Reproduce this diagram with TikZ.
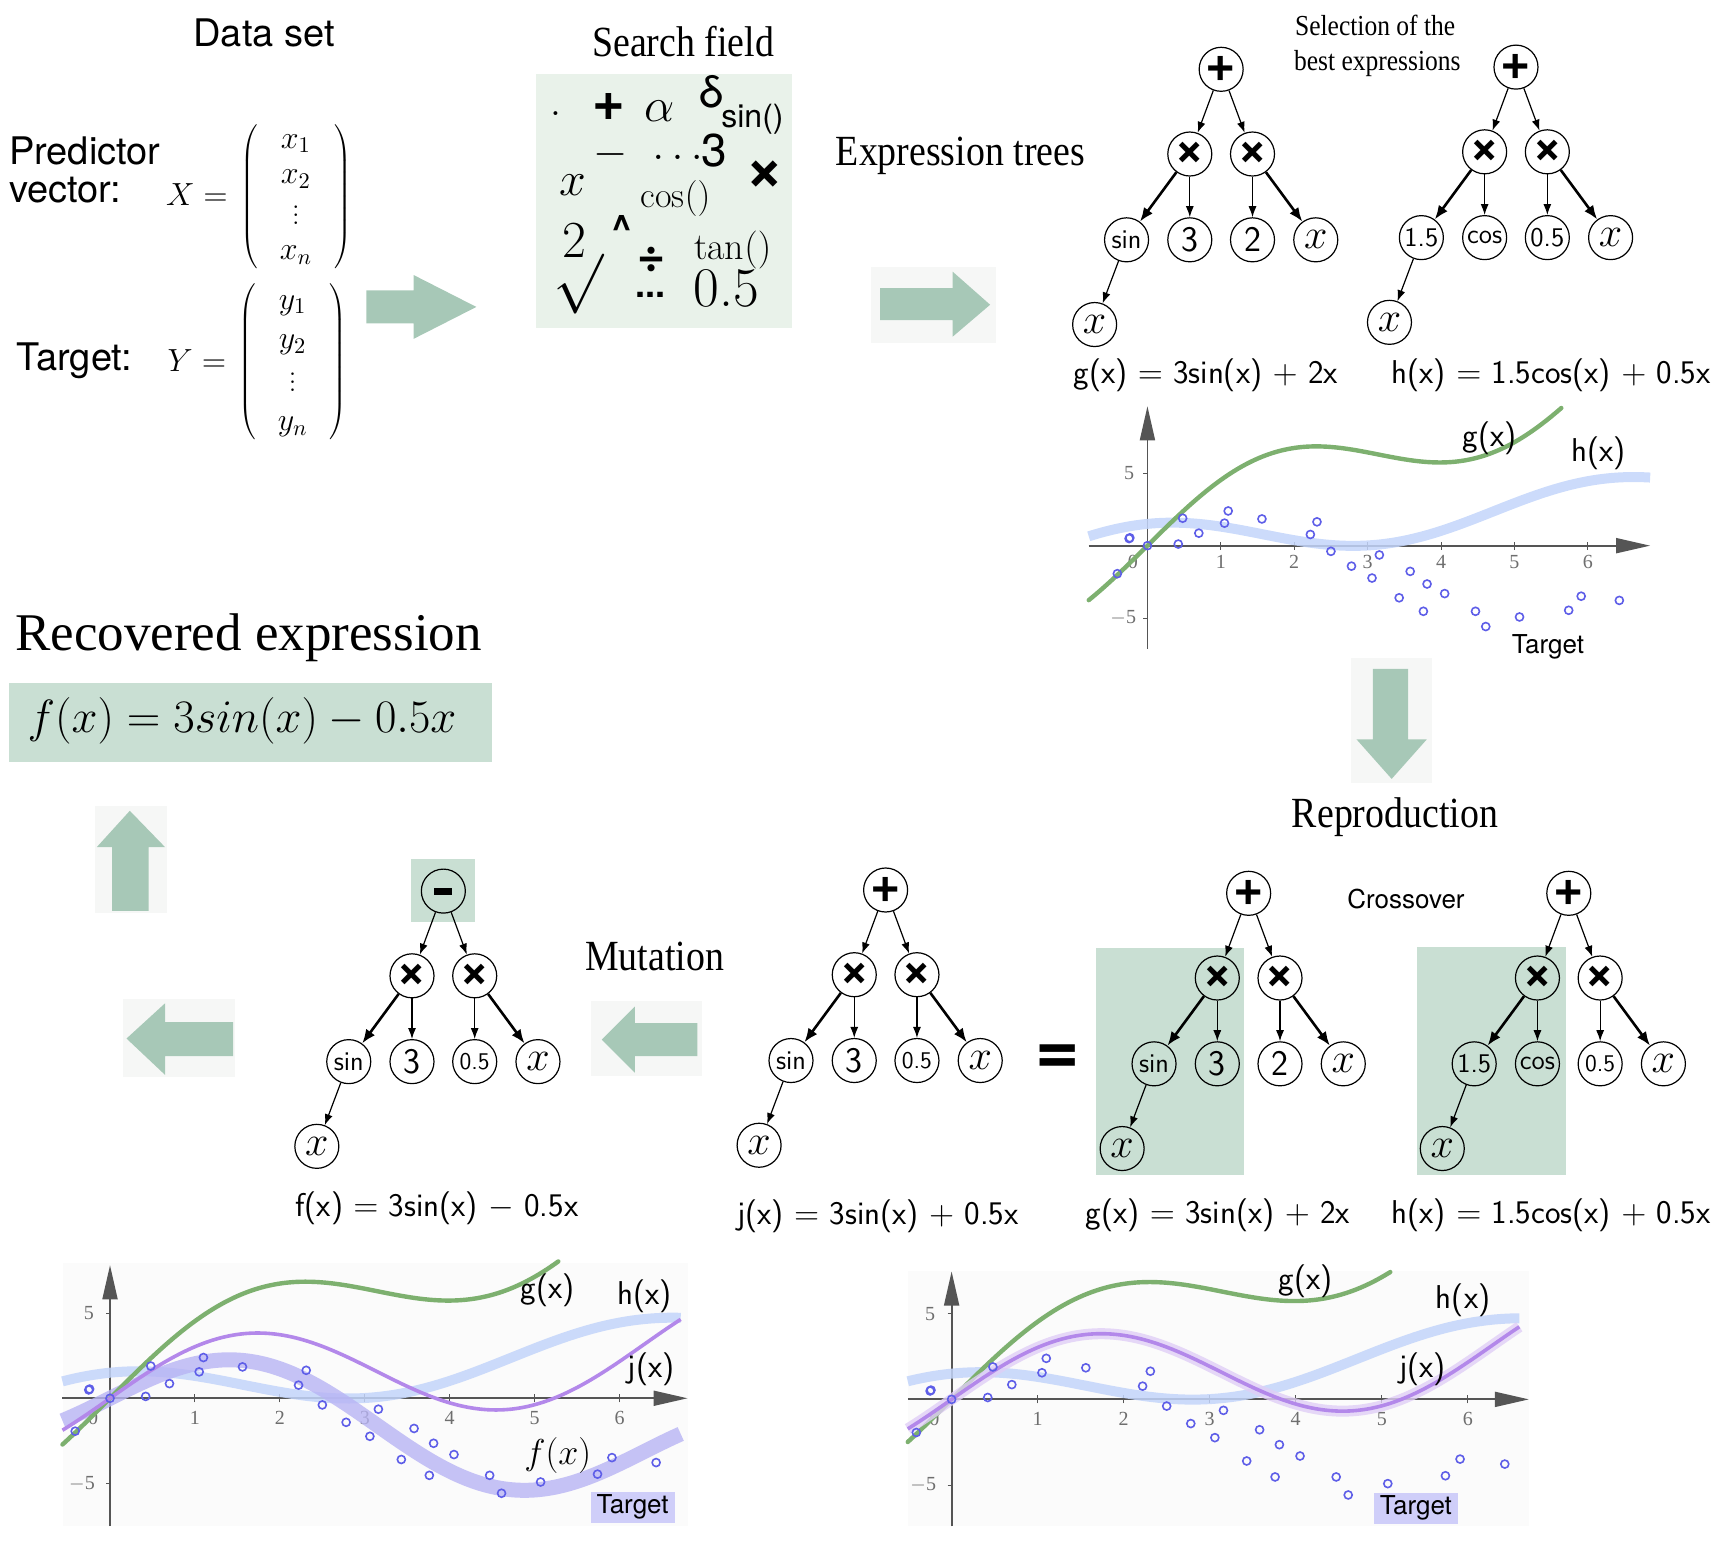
\RequirePackage{fix-cm}
\documentclass[tikz,border=0pt]{standalone}
\usepackage{fontspec}
\newfontfamily\hv{TeX Gyre Heros}
\newfontfamily\tnr[FakeStretch=0.88]{Liberation Serif}
\newfontfamily\tnrw{Liberation Serif}
\usetikzlibrary{arrows.meta}
\newcommand\fs[1]{\fontsize{#1}{#1}\selectfont}
\definecolor{arrowgreen}{HTML}{A7C8B7}
\definecolor{boxgreen}{HTML}{C9DFD3}
\definecolor{fieldgreen}{HTML}{E9F2EA}
\definecolor{gcol}{HTML}{7DB06F}
\definecolor{hcol}{HTML}{C3D5FA}
\definecolor{jcol}{HTML}{A673E6}
\definecolor{fcol}{HTML}{B8B4F4}
\definecolor{dotcol}{HTML}{5E5EE8}
\definecolor{axcol}{HTML}{555555}
\definecolor{tgtbox}{HTML}{CFCEF9}
\definecolor{faint}{HTML}{F6F7F6}
\newcommand\Pl{{\hv\bfseries\fs{26}+}}
\newcommand\Ti{{\hv\bfseries\fs{26}×}}
\newcommand\Mi{\rule{9pt}{3.4pt}}
\newcommand\Xv{{\fs{21}$x$}}
\newcommand\Sv[1]{{\sffamily\fs{13.5}#1}}
\newcommand\Sm[1]{{\sffamily\fs{12}#1}}
\newcommand\Dg[1]{{\sffamily\fs{18}#1}}
\newcommand\eqlab[1]{{\sffamily\fs{16.5}#1}}
\newcommand\etree[8]{%
  \node[tn] (#1r) at (#2,#3) {#4};
  \node[tn] (#1a) at (#2-28.5,#3+77) {\Ti};
  \node[tn] (#1b) at (#2+28.5,#3+77) {\Ti};
  \node[tn] (#1c) at (#2-86,#3+155) {#5};
  \node[tn] (#1d) at (#2-28.5,#3+155) {#6};
  \node[tn] (#1e) at (#2+28.5,#3+155) {#7};
  \node[tn] (#1f) at (#2+86,#3+155) {#8};
  \node[tn] (#1g) at (#2-115,#3+232) {\Xv};
  \draw[thinarr] (#1r) -- (#1a);
  \draw[thinarr] (#1r) -- (#1b);
  \draw[thickarr] (#1a) -- (#1c);
  \draw[thinarr] (#1a) -- (#1d);
  \draw[thinarr] (#1b) -- (#1e);
  \draw[thickarr] (#1b) -- (#1f);
  \draw[thinarr] (#1c) -- (#1g);
}
\newcommand\dotlist{-0.41/-1.93, -0.25/0.49, -0.24/0.54, 0/0, 0.42/0.11, 0.48/1.89, 0.70/0.86, 1.05/1.55, 1.10/2.39, 1.56/1.84, 2.22/0.77, 2.31/1.64, 2.50/-0.39, 2.78/-1.41, 3.06/-2.23, 3.16/-0.64, 3.43/-3.59, 3.58/-1.77, 3.76/-4.52, 3.81/-2.64, 4.05/-3.30, 4.47/-4.52, 4.61/-5.57, 5.07/-4.91, 5.74/-4.45, 5.91/-3.48, 6.43/-3.77}
\newcommand\plotaxes[5]{%
  \draw[axisst] (#2,0) -- (#3,0);
  \draw[axisst] (0,#4) -- (0,#5);
  \foreach \i in {1,...,6} {\draw[axcol, line width=0.5pt] ([yshift=-2pt]\i,0) -- ([yshift=2pt]\i,0);
    \node[tickl] (#1t\i) at (\i,-1.15) {\i};}
  \draw[axcol, line width=0.5pt] ([xshift=-2pt]0,5) -- (0,5);
  \draw[axcol, line width=0.5pt] ([xshift=-2pt]0,-5) -- (0,-5);
  \node[tickl] (#1t0) at (-0.2,-1.15) {0};
  \node[tickl] (#1t5) at (-0.25,5) {5};
  \node[tickl] (#1tm) at (-0.33,-5) {$-$5};
}
\newcommand\plotdots{\foreach \a/\b in \dotlist {\draw[dotst] (\a,\b) circle[radius=2pt];}}
\begin{document}
\begin{tikzpicture}[x=0.55pt,y=-0.55pt,
  every node/.style={inner sep=0pt},
  tn/.style={circle, draw, line width=0.6pt, minimum size=22pt, inner sep=0pt},
  thinarr/.style={-{Latex[length=5.5pt,width=4pt]}, line width=0.6pt},
  thickarr/.style={-{Latex[length=7pt,width=5.5pt]}, line width=1.3pt},
  axisst/.style={draw=axcol, line width=0.9pt, -{Triangle[length=17pt,width=7.5pt]}},
  tickl/.style={font=\tnrw\fontsize{10}{10}\selectfont, text=axcol!85},
  gst/.style={draw=gcol, line width=2.2pt, line cap=round},
  hst/.style={draw=hcol, line width=5pt, opacity=0.85},
  jst/.style={draw=jcol!85, line width=1.8pt},
  jglow/.style={draw=jcol!35, line width=5.5pt, opacity=0.8},
  fst/.style={draw=fcol, line width=7.5pt, opacity=0.8},
  dotst/.style={draw=dotcol, line width=0.8pt},
  tgt/.style={fill=tgtbox, minimum width=42pt, minimum height=15.5pt, font=\hv\fontsize{13}{13}\selectfont},
  serlab/.style={font=\tnr\fontsize{21.5}{21.5}\selectfont},
  arr/.style={fill=arrowgreen}
]
\path[use as bounding box] (0,0) rectangle (1568,1407);

% ---------- Data set ----------
\node (dataset) at (240,30) {\hv\fs{19}Data set};
\node[anchor=west] (pred) at (8,137) {\hv\fs{19}Predictor};
\node[anchor=west] (vect) at (8,173) {\hv\fs{19}vector:};
\node (xeq) at (179,177) {\fs{16}$X =$};
\node (xmat) at (269,179) {\fontsize{16}{17.6}\selectfont$\left(\hspace{6pt}\begin{array}{c}x_1\\x_2\\\vdots\\x_n\end{array}\hspace{6pt}\right)$};
\node[anchor=west] (targ) at (15,328) {\hv\fs{19}Target:};
\node (yeq) at (179,328) {\fs{16}$Y =$};
\node (ymat) at (266,329) {\fontsize{16}{19.8}\selectfont$\left(\hspace{6pt}\begin{array}{c}y_1\\y_2\\\vdots\\y_n\end{array}\hspace{6pt}\right)$};

% ---------- arrows ----------
\fill[arr] (333,264) -- (376,264) -- (376,250) -- (433,279) -- (376,308) -- (376,294) -- (333,294) -- cycle;
\fill[faint] (792,243) rectangle (905,312);
\fill[arr] (800,262) -- (866,262) -- (866,247) -- (900,277) -- (866,306) -- (866,291) -- (800,291) -- cycle;
\fill[faint] (86,733) rectangle (152,830);
\fill[arr] (102,828) -- (102,770) -- (88,770) -- (118,737) -- (150,770) -- (135,770) -- (135,828) -- cycle;
\fill[faint] (112,908) rectangle (214,979);
\fill[arr] (212,929) -- (150,929) -- (150,912) -- (115,944) -- (150,977) -- (150,960) -- (212,960) -- cycle;
\fill[faint] (537,910) rectangle (638,978);
\fill[arr] (634,930) -- (577,930) -- (577,915) -- (547,945) -- (577,975) -- (577,960) -- (634,960) -- cycle;
\fill[faint] (1228,598) rectangle (1302,712);
\fill[arr] (1248,608) -- (1280,608) -- (1280,672) -- (1297,672) -- (1265,708) -- (1233,672) -- (1248,672) -- cycle;

% ---------- Search field ----------
\node[serlab] (sftitle) at (621,38) {Search field};
\fill[fieldgreen] (487,67) rectangle (720,298);
\node (s1) at (505,103) {\fs{20}$.$};
\node (s2) at (553,97) {\hv\bfseries\fs{28}+};
\node (s3) at (600,101) {\fs{24}$\alpha$};
\node (s4) at (647,83) {\hv\fs{22}δ};
\node (s5) at (684,108) {\hv\fs{16}sin()};
\node (s6) at (555,140) {\fs{22}$-$};
\node (s7) at (616,143) {\fs{22}$\ldots$};
\node (s8) at (649,137) {\hv\fs{23}3};
\node (s9) at (695,160) {\hv\bfseries\fs{33}×};
\node (s10) at (521,168) {\fs{24}$x$};
\node (s11) at (614,180) {\fs{18}$\cos()$};
\node (s12) at (522,218) {\fs{26}2};
\node (s13) at (565,207) {\hv\bfseries\fs{18}\textasciicircum};
\node (s14) at (592,236) {\hv\bfseries\fs{24}÷};
\node (s15) at (666,227) {\fs{19}$\tan()$};
\node (s16) at (526,258) {\fs{30}$\surd$};
\node (s17) at (591,268) {\hv\bfseries\fs{18}...};
\node (s18) at (660,262) {\fs{28}0.5};

% ---------- Expression trees ----------
\node[serlab] (extitle) at (873,142) {Expression trees};
\node (sel1) at (1250,23) {\tnr\fs{14.5}Selection of the};
\node (sel2) at (1252,58) {\tnr\fs{14.5}best expressions};
\etree{ta}{1110}{63}{\Pl}{\Sv{sin}}{\Dg{3}}{\Dg{2}}{\Xv}
\etree{tb}{1378}{61}{\Pl}{\Sv{1.5}}{\Sv{cos}}{\Sv{0.5}}{\Xv}
\node (geq1) at (1096,341) {\eqlab{g(x) $=$ 3sin(x) $+$ 2x}};
\node (heq1) at (1410,341) {\eqlab{h(x) $=$ 1.5cos(x) $+$ 0.5x}};

% ---------- top plot ----------
\coordinate (P1o) at (1043,496);
\begin{scope}[shift={(P1o)}, x=36.69pt, y=7.26pt]
  \plotaxes{pa}{-0.8}{6.85}{-7.1}{9.6}
  \draw[hst] plot[domain=-0.8:6.85,samples=100,smooth] (\x,{1.5*cos(\x r)+0.5*\x});
  \draw[gst] plot[domain=-0.8:5.64,samples=100,smooth] (\x,{3*sin(\x r)+2*\x});
  \plotdots
\end{scope}
\node (pag) at (1354,398) {\eqlab{g(x)}};
\node (pah) at (1453,412) {\eqlab{h(x)}};
\node (patg) at (1407,588) {\hv\fs{13}Target};

% ---------- Reproduction ----------
\node[serlab] (repro) at (1268,743) {Reproduction};
\node (cross) at (1278,817) {\hv\fs{13}Crossover};
\fill[boxgreen] (996,862) rectangle (1131,1068);
\fill[boxgreen] (1288,861) rectangle (1423,1068);
\etree{tg}{1135}{812}{\Pl}{\Sv{sin}}{\Dg{3}}{\Dg{2}}{\Xv}
\etree{th}{1426}{812}{\Pl}{\Sv{1.5}}{\Sv{cos}}{\Sm{0.5}}{\Xv}
\node (geq2) at (1107,1105) {\eqlab{g(x) $=$ 3sin(x) $+$ 2x}};
\node (heq2) at (1410,1105) {\eqlab{h(x) $=$ 1.5cos(x) $+$ 0.5x}};
\node (eqsign) at (961,963) {\hv\bfseries\fs{38}=};
\etree{tj}{805}{809}{\Pl}{\Sv{sin}}{\Dg{3}}{\Sm{0.5}}{\Xv}
\node (jeq) at (798,1106) {\eqlab{j(x) $=$ 3sin(x) $+$ 0.5x}};

% ---------- Mutation ----------
\node[serlab] (mut) at (595,869) {Mutation};
\fill[boxgreen] (374,781) rectangle (432,838);
\etree{tf}{403}{810}{\Mi}{\Sv{sin}}{\Dg{3}}{\Sm{0.5}}{\Xv}
\node (feq) at (397,1098) {\eqlab{f(x) $=$ 3sin(x) $-$ 0.5x}};

% ---------- Recovered ----------
\node (recov) at (226,580) {\tnrw\fs{26.5}Recovered expression};
\fill[boxgreen] (8,621) rectangle (447,693);
\node (fres) at (220,655) {\fs{23.3}$f(x) = 3sin(x) - 0.5x$};

% ---------- bottom-left plot ----------
\fill[gray!3] (57,1148) rectangle (625,1387);
\coordinate (P2o) at (100,1271);
\begin{scope}[shift={(P2o)}, x=42.46pt, y=8.525pt]
  \plotaxes{pb}{-0.56}{6.8}{-7.5}{7.8}
  \draw[hst] plot[domain=-0.56:6.72,samples=100,smooth] (\x,{1.5*cos(\x r)+0.5*\x});
  \draw[fst] plot[domain=-0.56:6.72,samples=100,smooth] (\x,{3*sin(\x r)-0.5*\x});
  \draw[gst] plot[domain=-0.56:5.28,samples=100,smooth] (\x,{3*sin(\x r)+2*\x});
  \draw[jst] plot[domain=-0.56:6.72,samples=100,smooth] (\x,{3*sin(\x r)+0.5*\x});
  \plotdots
\end{scope}
\node (pbg) at (498,1173) {\eqlab{g(x)}};
\node (pbh) at (586,1178) {\eqlab{h(x)}};
\node (pbj) at (592,1245) {\eqlab{j(x)}};
\node (pbf) at (507,1323) {\fs{18}$f(x)$};
\node[tgt] (pbtg) at (575,1370) {Target};

% ---------- bottom-right plot ----------
\fill[gray!3] (825,1155) rectangle (1390,1387);
\coordinate (P3o) at (865,1272);
\begin{scope}[shift={(P3o)}, x=43.01pt, y=8.58pt]
  \plotaxes{pc}{-0.51}{6.71}{-7.4}{7.45}
  \draw[hst] plot[domain=-0.51:6.6,samples=100,smooth] (\x,{1.5*cos(\x r)+0.5*\x});
  \draw[gst] plot[domain=-0.51:5.1,samples=100,smooth] (\x,{3*sin(\x r)+2*\x});
  \draw[jglow] plot[domain=-0.51:6.6,samples=100,smooth] (\x,{3*sin(\x r)+0.5*\x});
  \draw[jst] plot[domain=-0.51:6.6,samples=100,smooth] (\x,{3*sin(\x r)+0.5*\x});
  \plotdots
\end{scope}
\node (pcg) at (1187,1165) {\eqlab{g(x)}};
\node (pch) at (1330,1182) {\eqlab{h(x)}};
\node (pcj) at (1293,1245) {\eqlab{j(x)}};
\node[tgt] (pctg) at (1287,1371) {Target};
\end{tikzpicture}
\end{document}
